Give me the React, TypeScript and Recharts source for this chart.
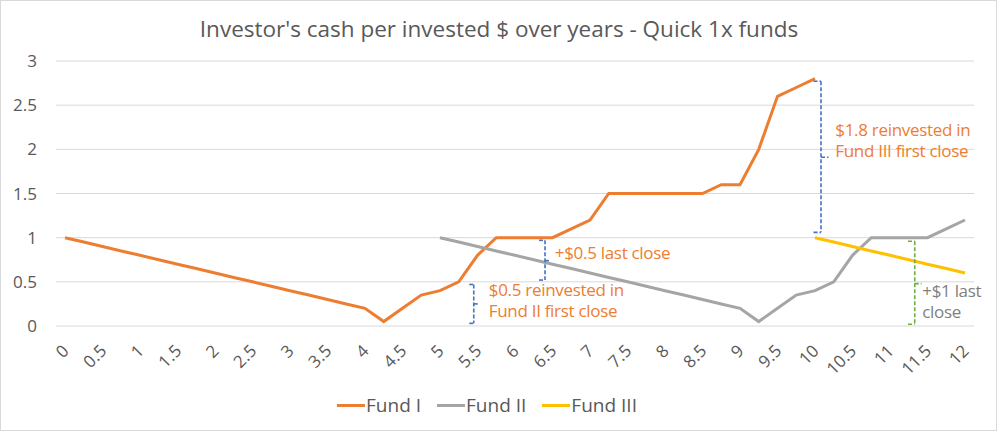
import React from 'react';
import { LineChart, Line, XAxis, YAxis, CartesianGrid, Legend, ReferenceLine, ReferenceDot } from 'recharts';

// years on the category axis (quarterly points, labels every half year)
const years = [
  0, 0.25, 0.5, 0.75, 1, 1.25, 1.5, 1.75, 2, 2.25, 2.5, 2.75, 3, 3.25, 3.5, 3.75,
  4, 4.25, 4.5, 4.75, 5, 5.25, 5.5, 5.75, 6, 6.25, 6.5, 6.75, 7, 7.25, 7.5, 7.75,
  8, 8.25, 8.5, 8.75, 9, 9.25, 9.5, 9.75, 10, 10.25, 10.5, 10.75, 11, 11.25, 11.5, 11.75, 12,
];

const fund1 = [
  1.0, 0.95, 0.9, 0.85, 0.8, 0.75, 0.7, 0.65, 0.6, 0.55, 0.5, 0.45, 0.4, 0.35, 0.3, 0.25,
  0.2, 0.05, 0.2, 0.35, 0.4, 0.5, 0.8, 1.0, 1.0, 1.0, 1.0, 1.1, 1.2, 1.5, 1.5, 1.5,
  1.5, 1.5, 1.5, 1.6, 1.6, 2.0, 2.6, 2.7, 2.8, null, null, null, null, null, null, null, null,
];

const fund2 = [
  null, null, null, null, null, null, null, null, null, null, null, null, null, null, null, null,
  null, null, null, null, 1.0, 0.95, 0.9, 0.85, 0.8, 0.75, 0.7, 0.65, 0.6, 0.55, 0.5, 0.45,
  0.4, 0.35, 0.3, 0.25, 0.2, 0.05, 0.2, 0.35, 0.4, 0.5, 0.8, 1.0, 1.0, 1.0, 1.0, 1.1, 1.2,
];

const fund3 = [
  null, null, null, null, null, null, null, null, null, null, null, null, null, null, null, null,
  null, null, null, null, null, null, null, null, null, null, null, null, null, null, null, null,
  null, null, null, null, null, null, null, null, 1.0, 0.95, 0.9, 0.85, 0.8, 0.75, 0.7, 0.65, 0.6,
];

const xTicks = [0, 0.5, 1, 1.5, 2, 2.5, 3, 3.5, 4, 4.5, 5, 5.5, 6, 6.5, 7, 7.5, 8, 8.5, 9, 9.5, 10, 10.5, 11, 11.5, 12];
const yTicks = [0, 0.5, 1, 1.5, 2, 2.5, 3];

const rows = years.map((year, i) => ({ year, f1: fund1[i], f2: fund2[i], f3: fund3[i] }));

const ORANGE = '#ED7D31';
const GREY = '#A5A5A5';
const YELLOW = '#FFC000';
const BLUE = '#4472C4';
const GREEN = '#70AD47';
const TEXT = '#595959';
const FONT = '"Open Sans", sans-serif';

// dashed right-facing braces around the reinvestment steps
const braces = [
  { x: 5.45, cap: 5.39, tip: 5.53, top: 0.47, bottom: 0.03, mid: 0.25, color: BLUE },
  { x: 6.4, cap: 6.32, tip: 6.47, top: 0.97, bottom: 0.52, mid: 0.74, color: BLUE },
  { x: 10.08, cap: 9.98, tip: 10.18, top: 2.77, bottom: 1.06, mid: 1.91, color: BLUE },
  { x: 11.33, cap: 11.24, tip: 11.42, top: 0.96, bottom: 0.02, mid: 0.48, color: GREEN },
];

const notes = [
  { x: 10.27, y: 2.15, lines: ['$1.8 reinvested in', 'Fund III first close'], color: ORANGE },
  { x: 6.53, y: 0.76, lines: ['+$0.5 last close'], color: ORANGE },
  { x: 5.65, y: 0.335, lines: ['$0.5 reinvested in', 'Fund II first close'], color: ORANGE },
  { x: 11.43, y: 0.33, lines: ['+$1 last', 'close'], color: '#7F7F7F' },
];

const XTick = (props: any) => {
  const { x, y, payload } = props;
  return (
    <text
      transform={`translate(${x + 5},${y + 18}) rotate(-45)`}
      textAnchor="end"
      fill={TEXT}
      fontSize={17}
      fontFamily={FONT}
    >
      {payload.value}
    </text>
  );
};

const LegendContent = () => {
  const items = [
    { name: 'Fund I', color: ORANGE },
    { name: 'Fund II', color: GREY },
    { name: 'Fund III', color: YELLOW },
  ];
  return (
    <div style={{ display: 'flex', justifyContent: 'center', gap: 16, fontFamily: FONT, fontSize: 19, color: TEXT }}>
      {items.map((it) => (
        <div key={it.name} style={{ display: 'flex', alignItems: 'center' }}>
          <span style={{ display: 'inline-block', width: 28, height: 3, background: it.color, marginRight: 1 }} />
          <span>{it.name}</span>
        </div>
      ))}
    </div>
  );
};

const noteLabel = (lines: string[], color: string) => (props: any) => {
  const { viewBox } = props;
  return (
    <text x={viewBox.x} y={viewBox.y} fill={color} fontSize={17} fontFamily={FONT} letterSpacing={-0.3}>
      {lines.map((l, i) => (
        <tspan key={i} x={viewBox.x} dy={i === 0 ? 0 : 21}>{l}</tspan>
      ))}
    </text>
  );
};

export default function App() {
  const braceLines = braces.flatMap((b, i) => {
    const common = { stroke: b.color, strokeWidth: 1.6, strokeDasharray: '4 2', ifOverflow: 'visible' as const };
    return [
      <ReferenceLine key={`v${i}`} segment={[{ x: b.x, y: b.top }, { x: b.x, y: b.bottom }]} {...common} />,
      <ReferenceLine key={`t${i}`} segment={[{ x: b.cap, y: b.top }, { x: b.x, y: b.top }]} {...common} />,
      <ReferenceLine key={`b${i}`} segment={[{ x: b.cap, y: b.bottom }, { x: b.x, y: b.bottom }]} {...common} />,
      <ReferenceLine key={`m${i}`} segment={[{ x: b.x, y: b.mid }, { x: b.tip, y: b.mid }]} {...common} />,
    ];
  });

  return (
    <div style={{ position: 'absolute', left: 0, top: 0, width: 998, height: 432, background: '#fff' }}>
      <div
        style={{
          position: 'absolute', left: 0, top: 0, width: 998, textAlign: 'center',
          fontFamily: FONT, fontSize: 22.5, color: TEXT, lineHeight: '30px', paddingTop: 14,
        }}
      >
        Investor's cash per invested $ over years - Quick 1x funds
      </div>
      <LineChart width={998} height={432} data={rows} margin={{ top: 61, right: 24, bottom: 0, left: 0 }}>
        <CartesianGrid vertical={false} stroke="#D9D9D9" strokeWidth={1} />
        <XAxis
          dataKey="year"
          type="number"
          domain={[0, 12]}
          ticks={xTicks}
          interval={0}
          padding={{ left: 9, right: 9 }}
          axisLine={false}
          tickLine={false}
          height={66}
          tick={<XTick />}
        />
        <YAxis
          domain={[0, 3]}
          ticks={yTicks}
          width={56}
          axisLine={false}
          tickLine={false}
          tickMargin={13}
          tick={{ fill: TEXT, fontSize: 17, fontFamily: FONT }}
        />
        <Legend verticalAlign="bottom" height={40} content={<LegendContent />} wrapperStyle={{ top: 392 }} />
        <Line dataKey="f1" name="Fund I" stroke={ORANGE} strokeWidth={3} dot={false} isAnimationActive={false} />
        <Line dataKey="f2" name="Fund II" stroke={GREY} strokeWidth={3} dot={false} isAnimationActive={false} />
        <Line dataKey="f3" name="Fund III" stroke={YELLOW} strokeWidth={3} dot={false} isAnimationActive={false} />
        {braceLines}
        {notes.map((n, i) => (
          <ReferenceDot
            key={`n${i}`}
            x={n.x}
            y={n.y}
            r={0}
            fill="none"
            stroke="none"
            ifOverflow="visible"
            label={{ content: noteLabel(n.lines, n.color) }}
          />
        ))}
      </LineChart>
      <div
        style={{
          position: 'absolute', left: 0, top: 0, width: 997, height: 431,
          border: '1px solid #D9D9D9', boxSizing: 'border-box', pointerEvents: 'none',
        }}
      />
    </div>
  );
}
